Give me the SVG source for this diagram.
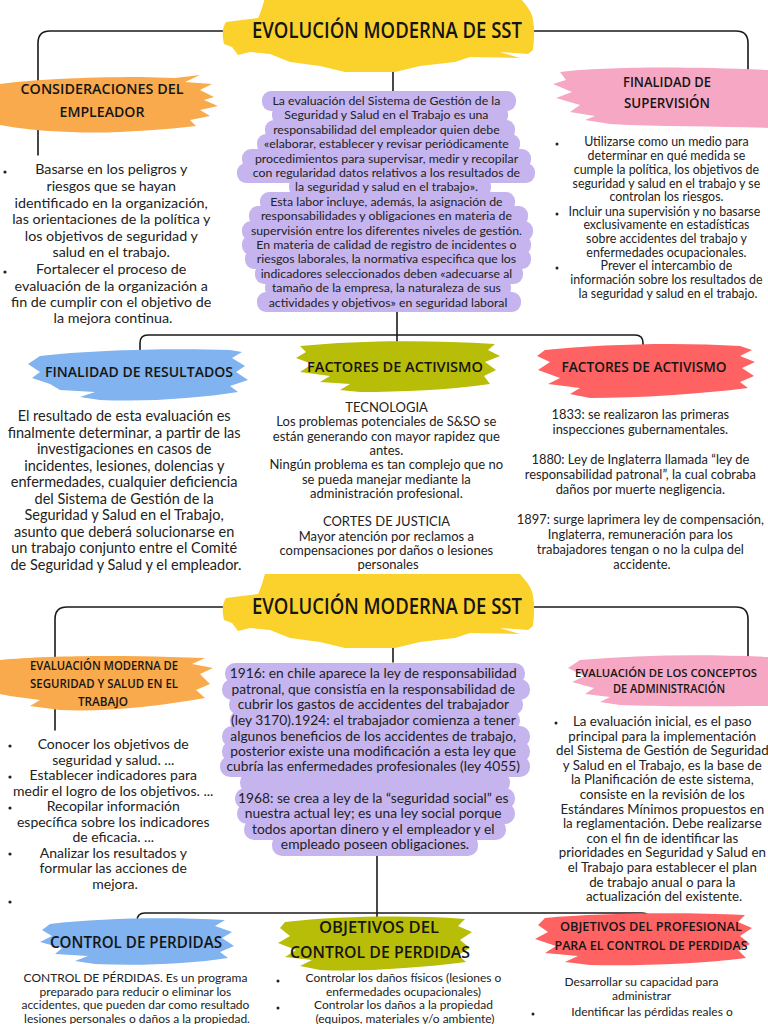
<svg xmlns="http://www.w3.org/2000/svg" width="768" height="1024" viewBox="0 0 768 1024">
<style>
.ln{fill:none;stroke:#1a1a1a;stroke-width:1.6;stroke-linecap:round}
.h{font-family:"Open Sans","Liberation Sans",Arial,sans-serif;font-weight:600;fill:#151515;text-anchor:middle}
.b{font-family:Lato,"Open Sans",sans-serif;fill:#222;text-anchor:middle}
.yel{fill:#fbd22c}.ora{fill:#f9aa4c}.pnk{fill:#f6a7c3}.blu{fill:#80b3ef}.olv{fill:#b8bd08}.red{fill:#ff6262}.pur{fill:#c6b4ee}
.dot{fill:#222}
</style>
<defs>
<path id="yblob" d="M265,-2 L520,-2 C527,6 532,12 533,20 C535,30 534,40 533,50 L528,54 L500,52 L520,58 L470,57 L455,62 L420,66 L395,72 L345,72 L320,66 L290,62 L270,54 L250,52 L238,55 L232,47 L224,44 C222,35 222,28 226,22 L258,18 C262,10 263,4 265,-2 Z"/>
</defs>
<rect width="768" height="1024" fill="#fff"/>

<g id="connectors">
<path class="ln" d="M230,31 H50 Q38,31 38,43 V155"/>
<path class="ln" d="M530,31 H736 Q748,31 748,43 V76"/>
<path class="ln" d="M393,60 V95"/>
<path class="ln" d="M397,310 V341"/>
<path class="ln" d="M140,350 V343 Q140,335 148,335 H635 Q643,335 643,343 V350"/>
<path class="ln" d="M230,607 H67 Q55,607 55,619 V730"/>
<path class="ln" d="M530,607 H736 Q748,607 748,619 V660"/>
<path class="ln" d="M393,636 V662"/>
<path class="ln" d="M377,852 V922"/>
<path class="ln" d="M137,925 V921 Q137,913 145,913 H642 Q650,913 650,921 V925"/>
</g>

<g id="title1">
<use href="#yblob" class="yel"/>
<text class="h" x="387" y="38" font-size="21" textLength="270" lengthAdjust="spacingAndGlyphs">EVOLUCIÓN MODERNA DE SST</text>
</g>

<g id="consideraciones">
<path class="ora" d="M0,84 C30,80 80,77 140,77 L175,78 L200,75 L185,82 L212,84 L200,90 L214,97 L204,100 L218,106 L200,110 L210,116 L190,120 L196,126 C160,130 110,134 70,132 C40,131 15,128 0,125 Z"/>
<text class="h" x="102" y="94" font-size="14" textLength="163" lengthAdjust="spacingAndGlyphs">CONSIDERACIONES DEL</text>
<text class="h" x="102" y="117" font-size="14" textLength="85" lengthAdjust="spacingAndGlyphs">EMPLEADOR</text>
<circle class="dot" cx="5" cy="172" r="1.6"/>
<circle class="dot" cx="5" cy="272" r="1.6"/>
<text class="b" font-size="14.3">
<tspan x="113" y="174">Basarse en los peligros y</tspan>
<tspan x="113" y="191">riesgos que se hayan</tspan>
<tspan x="113" y="208">identificado en la organización,</tspan>
<tspan x="113" y="224">las orientaciones de la política y</tspan>
<tspan x="113" y="241">los objetivos de seguridad y</tspan>
<tspan x="113" y="257">salud en el trabajo.</tspan>
<tspan x="113" y="274">Fortalecer el proceso de</tspan>
<tspan x="113" y="291">evaluación de la organización a</tspan>
<tspan x="113" y="307">fin de cumplir con el objetivo de</tspan>
<tspan x="113" y="323">la mejora continua.</tspan>
</text>
</g>

<g id="evaluacion1">
<g class="pur">
<rect x="262" y="91" width="254" height="20" rx="9"/>
<rect x="272" y="105" width="236" height="20" rx="9"/>
<rect x="265" y="120" width="250" height="20" rx="9"/>
<rect x="257" y="134" width="263" height="20" rx="9"/>
<rect x="242" y="149" width="289" height="20" rx="9"/>
<rect x="237" y="163" width="298" height="20" rx="9"/>
<rect x="289" y="177" width="202" height="20" rx="9"/>
<rect x="260" y="192" width="255" height="20" rx="9"/>
<rect x="249" y="206" width="279" height="20" rx="9"/>
<rect x="242" y="221" width="291" height="20" rx="9"/>
<rect x="242" y="235" width="289" height="20" rx="9"/>
<rect x="245" y="249" width="286" height="20" rx="9"/>
<rect x="255" y="264" width="268" height="20" rx="9"/>
<rect x="265" y="278" width="246" height="20" rx="9"/>
<rect x="257" y="292" width="264" height="20" rx="9"/>
</g>
<text class="b" font-size="12.3">
<tspan x="388" y="105">La evaluación del Sistema de Gestión de la</tspan>
<tspan x="388" y="119.4">Seguridad y Salud en el Trabajo es una</tspan>
<tspan x="388" y="133.8">responsabilidad del empleador quien debe</tspan>
<tspan x="388" y="148.2">«elaborar, establecer y revisar periódicamente</tspan>
<tspan x="388" y="162.6">procedimientos para supervisar, medir y recopilar</tspan>
<tspan x="388" y="177">con regularidad datos relativos a los resultados de</tspan>
<tspan x="388" y="191.4">la seguridad y salud en el trabajo».</tspan>
<tspan x="388" y="205.8">Esta labor incluye, además, la asignación de</tspan>
<tspan x="388" y="220.2">responsabilidades y obligaciones en materia de</tspan>
<tspan x="388" y="234.6">supervisión entre los diferentes niveles de gestión.</tspan>
<tspan x="388" y="249">En materia de calidad de registro de incidentes o</tspan>
<tspan x="388" y="263.4">riesgos laborales, la normativa especifica que los</tspan>
<tspan x="388" y="277.8">indicadores seleccionados deben «adecuarse al</tspan>
<tspan x="388" y="292.2">tamaño de la empresa, la naturaleza de sus</tspan>
<tspan x="388" y="306.6">actividades y objetivos» en seguridad laboral</tspan>
</text>
</g>

<g id="finalidad-supervision">
<path class="pnk" d="M560,72 C600,67 680,66 768,70 L768,128 C720,126 660,127 610,124 L585,120 L595,116 L570,112 L580,105 L556,98 L572,92 L553,84 L566,80 Z"/>
<text class="h" x="667" y="87" font-size="14" textLength="88" lengthAdjust="spacingAndGlyphs">FINALIDAD DE</text>
<text class="h" x="667" y="108" font-size="14" textLength="86" lengthAdjust="spacingAndGlyphs">SUPERVISIÓN</text>
<circle class="dot" cx="557" cy="144" r="1.5"/>
<circle class="dot" cx="557" cy="214" r="1.5"/>
<circle class="dot" cx="557" cy="268" r="1.5"/>
<text class="b" font-size="12.4">
<tspan x="668" y="146">Utilizarse como un medio para</tspan>
<tspan x="668" y="160">determinar en qué medida se</tspan>
<tspan x="668" y="174">cumple la política, los objetivos de</tspan>
<tspan x="668" y="188">seguridad y salud en el trabajo y se</tspan>
<tspan x="668" y="201">controlan los riesgos.</tspan>
<tspan x="666" y="216">Incluir una supervisión y no basarse</tspan>
<tspan x="668" y="229">exclusivamente en estadísticas</tspan>
<tspan x="668" y="243">sobre accidentes del trabajo y</tspan>
<tspan x="668" y="257">enfermedades ocupacionales.</tspan>
<tspan x="668" y="270">Prever el intercambio de</tspan>
<tspan x="668" y="284">información sobre los resultados de</tspan>
<tspan x="668" y="298">la seguridad y salud en el trabajo.</tspan>
</text>
</g>

<g id="finalidad-resultados">
<path class="blu" d="M40,356 C90,350 170,348 230,350 L242,352 L232,358 L245,366 L236,372 L248,380 L230,386 L238,392 C200,398 150,402 100,400 L80,397 L95,392 L60,390 L50,384 L32,378 L40,372 L28,364 Z"/>
<text class="h" x="139" y="377" font-size="14" textLength="188" lengthAdjust="spacingAndGlyphs">FINALIDAD DE RESULTADOS</text>
<text class="b" font-size="14.5">
<tspan x="126" y="421">El resultado de esta evaluación es</tspan>
<tspan x="126" y="437.5">finalmente determinar, a partir de las</tspan>
<tspan x="126" y="454">investigaciones en casos de</tspan>
<tspan x="126" y="470.5">incidentes, lesiones, dolencias y</tspan>
<tspan x="126" y="487">enfermedades, cualquier deficiencia</tspan>
<tspan x="126" y="503.5">del Sistema de Gestión de la</tspan>
<tspan x="126" y="520">Seguridad y Salud en el Trabajo,</tspan>
<tspan x="126" y="536.5">asunto que deberá solucionarse en</tspan>
<tspan x="126" y="553">un trabajo conjunto entre el Comité</tspan>
<tspan x="126" y="569.5">de Seguridad y Salud y el empleador.</tspan>
</text>
</g>

<g id="factores-activismo-1">
<path class="olv" d="M300,346 C360,340 430,340 495,344 L488,350 L500,356 L485,362 L496,370 L484,376 L490,384 C450,390 400,392 360,392 L340,390 L350,384 L320,382 L330,376 L300,372 L312,364 L296,358 L306,352 Z"/>
<text class="h" x="395" y="372" font-size="14" textLength="176" lengthAdjust="spacingAndGlyphs">FACTORES DE ACTIVISMO</text>
<text class="b" font-size="13">
<tspan x="388" y="412">TECNOLOGIA</tspan>
<tspan x="388" y="426.3">Los problemas potenciales de S&amp;SO se</tspan>
<tspan x="388" y="440.6">están generando con mayor rapidez que</tspan>
<tspan x="388" y="454.9">antes.</tspan>
<tspan x="388" y="469.2">Ningún problema es tan complejo que no</tspan>
<tspan x="388" y="483.5">se pueda manejar mediante la</tspan>
<tspan x="388" y="497.8">administración profesional.</tspan>
<tspan x="388" y="526.4">CORTES DE JUSTICIA</tspan>
<tspan x="388" y="540.7">Mayor atención por reclamos a</tspan>
<tspan x="388" y="555">compensaciones por daños o lesiones</tspan>
<tspan x="388" y="569.3">personales</tspan>
</text>
</g>

<g id="factores-activismo-2">
<path class="red" d="M545,350 C600,344 680,342 740,346 L752,350 L740,356 L755,362 L742,368 L754,376 L740,382 L748,388 C700,394 640,398 590,398 L570,394 L580,388 L548,384 L560,378 L538,370 L550,362 L537,356 Z"/>
<text class="h" x="644" y="372" font-size="14" textLength="165" lengthAdjust="spacingAndGlyphs">FACTORES DE ACTIVISMO</text>
<text class="b" font-size="12.9">
<tspan x="642" y="419">1833: se realizaron las primeras</tspan>
<tspan x="642" y="434">inspecciones gubernamentales.</tspan>
<tspan x="642" y="464">1880: Ley de Inglaterra llamada “ley de</tspan>
<tspan x="642" y="479">responsabilidad patronal”, la cual cobraba</tspan>
<tspan x="642" y="494">daños por muerte negligencia.</tspan>
<tspan x="642" y="524">1897: surge laprimera ley de compensación,</tspan>
<tspan x="642" y="539">Inglaterra, remuneración para los</tspan>
<tspan x="642" y="554">trabajadores tengan o no la culpa del</tspan>
<tspan x="642" y="569">accidente.</tspan>
</text>
</g>

<g id="title2">
<use href="#yblob" class="yel" transform="translate(0,576)"/>
<text class="h" x="387" y="614" font-size="21" textLength="270" lengthAdjust="spacingAndGlyphs">EVOLUCIÓN MODERNA DE SST</text>
</g>

<g id="evaluacion-moderna">
<path class="ora" d="M0,660 C40,656 110,655 170,657 L205,658 L192,664 L213,668 L200,674 L210,684 L196,690 L205,698 C160,706 110,712 60,710 L30,706 L40,700 L10,696 L0,694 Z"/>
<text class="h" x="104" y="670" font-size="13" textLength="148" lengthAdjust="spacingAndGlyphs">EVALUACIÓN MODERNA DE</text>
<text class="h" x="104" y="688" font-size="13" textLength="148" lengthAdjust="spacingAndGlyphs">SEGURIDAD Y SALUD EN EL</text>
<text class="h" x="103" y="706" font-size="13" textLength="50" lengthAdjust="spacingAndGlyphs">TRABAJO</text>
<circle class="dot" cx="10" cy="746" r="1.6"/>
<circle class="dot" cx="10" cy="777" r="1.6"/>
<circle class="dot" cx="10" cy="808" r="1.6"/>
<circle class="dot" cx="10" cy="854" r="1.6"/>
<circle class="dot" cx="10" cy="902" r="1.6"/>
<text class="b" font-size="14">
<tspan x="115" y="749">Conocer los objetivos de</tspan>
<tspan x="115" y="765">seguridad y salud. ...</tspan>
<tspan x="115" y="780">Establecer indicadores para</tspan>
<tspan x="115" y="796">medir el logro de los objetivos. ...</tspan>
<tspan x="115" y="811">Recopilar información</tspan>
<tspan x="115" y="827">específica sobre los indicadores</tspan>
<tspan x="115" y="842">de eficacia. ...</tspan>
<tspan x="115" y="858">Analizar los resultados y</tspan>
<tspan x="115" y="873">formular las acciones de</tspan>
<tspan x="115" y="889">mejora.</tspan>
</text>
</g>

<g id="historia-chile">
<g class="pur">
<rect x="225" y="663" width="300" height="21" rx="10"/>
<rect x="222" y="679" width="308" height="21" rx="10"/>
<rect x="229" y="694" width="294" height="21" rx="10"/>
<rect x="230" y="710" width="290" height="21" rx="10"/>
<rect x="222" y="726" width="308" height="21" rx="10"/>
<rect x="222" y="741" width="308" height="21" rx="10"/>
<rect x="220" y="756" width="310" height="21" rx="10"/>
<rect x="240" y="772" width="270" height="21" rx="10"/>
<rect x="235" y="788" width="280" height="21" rx="10"/>
<rect x="237" y="803" width="278" height="21" rx="10"/>
<rect x="244" y="819" width="262" height="21" rx="10"/>
<rect x="272" y="834" width="206" height="22" rx="10"/>
</g>
<text class="b" font-size="13.8">
<tspan x="375" y="678">1916: en chile aparece la ley de responsabilidad</tspan>
<tspan x="375" y="694">patronal, que consistía en la responsabilidad de</tspan>
<tspan x="375" y="709">cubrir los gastos de accidentes del trabajador</tspan>
<tspan x="375" y="725">(ley 3170).1924: el trabajador comienza a tener</tspan>
<tspan x="375" y="741">algunos beneficios de los accidentes de trabajo,</tspan>
<tspan x="375" y="756">posterior existe una modificación a esta ley que</tspan>
<tspan x="375" y="771">cubría las enfermedades profesionales (ley 4055)</tspan>
<tspan x="375" y="803">1968: se crea a ley de la “seguridad social” es</tspan>
<tspan x="375" y="818">nuestra actual ley; es una ley social porque</tspan>
<tspan x="375" y="834">todos aportan dinero y el empleador y el</tspan>
<tspan x="375" y="849">empleado poseen obligaciones.</tspan>
</text>
</g>

<g id="conceptos-administracion">
<path class="pnk" d="M580,660 C640,655 700,654 768,657 L768,706 C720,706 660,707 620,705 L600,702 L610,697 L585,694 L594,688 L572,682 L585,676 L568,668 Z"/>
<text class="h" x="666" y="677" font-size="11.3" textLength="182" lengthAdjust="spacingAndGlyphs">EVALUACIÓN DE LOS CONCEPTOS</text>
<text class="h" x="669" y="693" font-size="12" textLength="112" lengthAdjust="spacingAndGlyphs">DE ADMINISTRACIÓN</text>
<circle class="dot" cx="556" cy="723" r="1.5"/>
<text class="b" font-size="13.3">
<tspan x="664" y="726">La evaluación inicial, es el paso</tspan>
<tspan x="664" y="740.6">principal para la implementación</tspan>
<tspan x="664" y="755.2">del Sistema de Gestión de Seguridad</tspan>
<tspan x="664" y="769.8">y Salud en el Trabajo, es la base de</tspan>
<tspan x="664" y="784.4">la Planificación de este sistema,</tspan>
<tspan x="664" y="799">consiste en la revisión de los</tspan>
<tspan x="664" y="813.6">Estándares Mínimos propuestos en</tspan>
<tspan x="664" y="828.2">la reglamentación. Debe realizarse</tspan>
<tspan x="664" y="842.8">con el fin de identificar las</tspan>
<tspan x="664" y="857.4">prioridades en Seguridad y Salud en</tspan>
<tspan x="664" y="872">el Trabajo para establecer el plan</tspan>
<tspan x="664" y="886.6">de trabajo anual o para la</tspan>
<tspan x="664" y="901.2">actualización del existente.</tspan>
</text>
</g>

<g id="control-perdidas">
<path class="blu" d="M50,924 C100,918 170,917 225,920 L215,926 L232,932 L222,938 L234,946 L220,952 L228,958 C190,964 140,966 95,964 L75,961 L88,956 L55,954 L62,948 L40,942 L52,936 L42,930 Z"/>
<text class="h" x="136" y="948" font-size="16" textLength="172" lengthAdjust="spacingAndGlyphs">CONTROL DE PERDIDAS</text>
<text class="b" font-size="12">
<tspan x="137" y="982">CONTROL DE PÉRDIDAS. Es un programa</tspan>
<tspan x="137" y="995.5">preparado para reducir o eliminar los</tspan>
<tspan x="137" y="1009">accidentes, que pueden dar como resultado</tspan>
<tspan x="137" y="1022.5">lesiones personales o daños a la propiedad.</tspan>
</text>
</g>

<g id="objetivos-control">
<path class="olv" d="M285,922 C340,916 410,915 465,919 L458,926 L472,932 L460,940 L470,948 L458,955 L466,962 C420,968 360,972 320,970 L300,966 L312,960 L285,957 L296,950 L278,943 L290,936 L280,928 Z"/>
<text class="h" x="379" y="933" font-size="16" textLength="120" lengthAdjust="spacingAndGlyphs">OBJETIVOS DEL</text>
<text class="h" x="380" y="958" font-size="16" textLength="180" lengthAdjust="spacingAndGlyphs">CONTROL DE PERDIDAS</text>
<circle class="dot" cx="278" cy="981" r="1.5"/>
<circle class="dot" cx="278" cy="1008" r="1.5"/>
<text class="b" font-size="12">
<tspan x="405" y="982">Controlar los daños físicos (lesiones o</tspan>
<tspan x="405" y="995.5">enfermedades ocupacionales)</tspan>
<tspan x="405" y="1009">Controlar los daños a la propiedad</tspan>
<tspan x="405" y="1022.5">(equipos, materiales y/o ambiente)</tspan>
</text>
</g>

<g id="objetivos-profesional">
<path class="red" d="M545,918 C600,913 680,912 745,915 L738,922 L752,928 L740,936 L750,944 L738,950 L746,958 C700,964 640,966 590,965 L565,962 L578,956 L545,953 L556,946 L535,939 L548,932 L538,925 Z"/>
<text class="h" x="651" y="931" font-size="13" textLength="182" lengthAdjust="spacingAndGlyphs">OBJETIVOS DEL PROFESIONAL</text>
<text class="h" x="651" y="950" font-size="13" textLength="193" lengthAdjust="spacingAndGlyphs">PARA EL CONTROL DE PERDIDAS</text>
<circle class="dot" cx="533" cy="1014" r="1.5"/>
<text class="b" font-size="12">
<tspan x="643" y="986">Desarrollar su capacidad para</tspan>
<tspan x="643" y="1000">administrar</tspan>
<tspan x="652" y="1016">Identificar las pérdidas reales o</tspan>
</text>
</g>
</svg>
